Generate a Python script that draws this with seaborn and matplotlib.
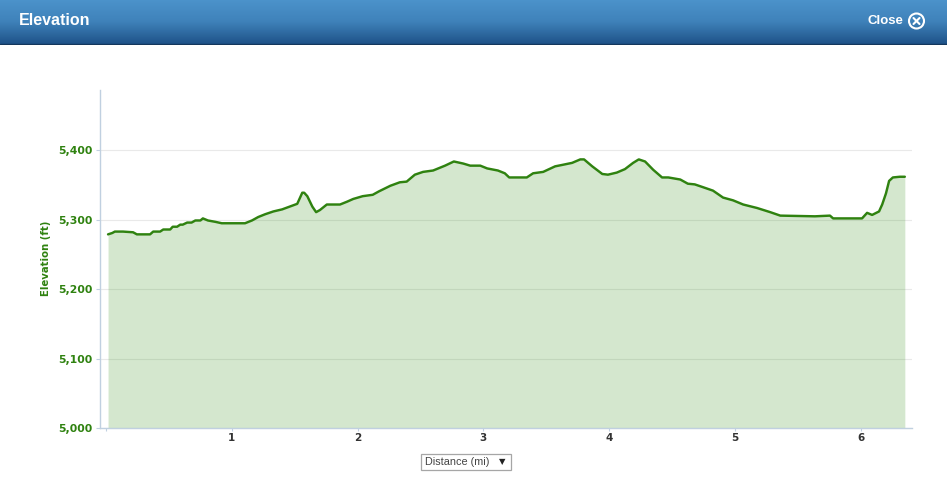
import numpy as np
import pandas as pd
import matplotlib
matplotlib.use("Agg")
import matplotlib.pyplot as plt
import matplotlib.patches as mpatches
import seaborn as sns

# Elevation profile, values
distance_mi = [
    0.016, 0.05, 0.07, 0.135, 0.215, 0.245, 0.35, 0.375, 0.43, 0.455, 0.51, 0.53, 0.565,
    0.59, 0.61, 0.645, 0.68, 0.71, 0.75, 0.77, 0.81, 0.87, 0.92, 1.105, 1.16, 1.21, 1.265,
    1.33, 1.40, 1.46, 1.52, 1.535, 1.56, 1.575, 1.60, 1.64, 1.67, 1.70, 1.755, 1.86, 1.915,
    1.965, 2.04, 2.12, 2.17, 2.26, 2.335, 2.39, 2.455, 2.52, 2.60, 2.695, 2.765, 2.84,
    2.895, 2.975, 3.03, 3.115, 3.17, 3.205, 3.345, 3.395, 3.475, 3.57, 3.625, 3.705, 3.77,
    3.80, 3.865, 3.945, 3.99, 4.06, 4.125, 4.19, 4.235, 4.285, 4.35, 4.42, 4.47, 4.565,
    4.625, 4.68, 4.745, 4.825, 4.905, 4.985, 5.065, 5.175, 5.28, 5.36, 5.635, 5.755, 5.78,
    6.01, 6.05, 6.09, 6.145, 6.17, 6.20, 6.225, 6.255, 6.31, 6.35,
]
elevation_ft = [
    5279, 5281, 5283, 5283, 5282, 5279, 5279, 5283, 5283, 5286, 5286, 5290, 5290,
    5293, 5293, 5296, 5296, 5299, 5299, 5302, 5299, 5297, 5295, 5295, 5299, 5304, 5308,
    5312, 5315, 5319, 5323, 5329, 5339, 5339, 5334, 5319, 5311, 5314, 5322, 5322, 5326,
    5330, 5334, 5336, 5341, 5349, 5354, 5355, 5365, 5369, 5371, 5378, 5384, 5381,
    5378, 5378, 5374, 5371, 5367, 5361, 5361, 5367, 5369, 5377, 5379, 5382, 5387,
    5387, 5377, 5366, 5365, 5368, 5373, 5382, 5387, 5384, 5372, 5361, 5361, 5358,
    5352, 5351, 5347, 5342, 5332, 5328, 5322, 5317, 5311, 5306, 5305, 5306, 5302,
    5302, 5310, 5307, 5312, 5322, 5338, 5356, 5361, 5362, 5362,
]
x_ticks = [0, 1, 2, 3, 4, 5, 6]
x_tick_labels = ["", "1", "2", "3", "4", "5", "6"]
y_ticks = [5000, 5100, 5200, 5300, 5400]
y_tick_labels = ["5,000", "5,100", "5,200", "5,300", "5,400"]

GREEN = "#2f8210"
AXIS_COL = "#c0d0e0"
W, H = 947, 488

sns.set_theme(style="white")
plt.rcParams["font.family"] = ["DejaVu Sans"]

df = pd.DataFrame({"distance": distance_mi, "elevation": elevation_ft})

fig = plt.figure(figsize=(W / 100, H / 100), dpi=100, facecolor="white")


def px_rect(left, top, right, bottom):
    """Figure fraction rectangle from pixel edges (y measured from the top)."""
    return [left / W, 1 - bottom / H, (right - left) / W, (bottom - top) / H]


# --- Title bar ---
bar = fig.add_axes(px_rect(0, 0, W, 44.5))
grad = np.linspace(0, 1, 64).reshape(-1, 1)
cmap = matplotlib.colors.LinearSegmentedColormap.from_list(
    "bar", ["#4c93cb", "#3f82ba", "#1f5389"])
bar.imshow(grad, aspect="auto", cmap=cmap, extent=(0, W, 44.5, 0))
bar.axhline(44, color="#14375c", lw=1)
bar.set_xlim(0, W)
bar.set_ylim(44.5, 0)
bar.axis("off")
bar.text(18.5, 20.5, "Elevation", color="white", fontsize=11.5, fontweight="bold",
         family="Liberation Sans", va="center", ha="left")
bar.text(867.5, 20.5, "Close", color="white", fontsize=9.5, fontweight="bold",
         family="Liberation Sans", va="center", ha="left")
bar.add_patch(mpatches.Circle((916.5, 21), 7.5, fc="none", ec="white", lw=1.5))
bar.plot([913.5, 919.5], [18, 24], color="white", lw=1.5)
bar.plot([913.5, 919.5], [24, 18], color="white", lw=1.5)

# --- Chart ---
ax = fig.add_axes(px_rect(100, 90, 912, 428))
ax.fill_between(df["distance"], df["elevation"], 5000, color="#2a8a0a", alpha=0.2,
                lw=0, zorder=2)
sns.lineplot(data=df, x="distance", y="elevation", ax=ax, color=GREEN, lw=1.75,
             errorbar=None, zorder=3)

ax.set_xlim(-0.048, 6.407)
ax.set_ylim(5000, 5487)
ax.set_xticks(x_ticks)
ax.set_xticklabels(x_tick_labels, fontsize=7.5, fontweight="bold", color="#333333")
ax.set_yticks(y_ticks)
ax.set_yticklabels(y_tick_labels, fontsize=7.8, fontweight="bold", color=GREEN)
ax.tick_params(axis="x", length=2.5, width=0.8, color=AXIS_COL, pad=1, bottom=True)
ax.tick_params(axis="y", length=3, width=0.8, color=AXIS_COL, pad=2.5, left=True)
ax.grid(axis="y", color="#e9e9e9", lw=0.8, zorder=1)
ax.set_axisbelow(True)
for side in ["top", "right"]:
    ax.spines[side].set_visible(False)
for side in ["left", "bottom"]:
    ax.spines[side].set_color(AXIS_COL)
    ax.spines[side].set_linewidth(1)
ax.set_xlabel("")
ax.set_ylabel("")
fig.text(46 / W, 1 - 258.5 / H, "Elevation (ft)", rotation=90, color=GREEN, fontsize=7.3,
         fontweight="bold", ha="center", va="center")

# --- Distance dropdown ---
drop = fig.add_axes([0, 0, 1, 1], facecolor="none")
drop.set_xlim(0, W)
drop.set_ylim(H, 0)
drop.axis("off")
drop.add_patch(mpatches.Rectangle((420.5, 454), 90.5, 16, fc="white", ec="#a6a6a6", lw=0.9))
drop.text(425, 462.3, "Distance (mi)", fontsize=7.8, family="Liberation Sans",
          color="#444444", va="center", ha="left")
drop.text(502, 461.5, "\u25bc", fontsize=6, color="#222222", va="center", ha="center")

fig.savefig("out.png", dpi=100)
